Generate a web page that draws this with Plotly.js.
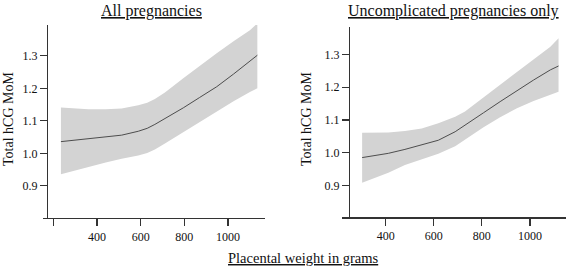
<!DOCTYPE html>
<html>
<head>
<meta charset="utf-8">
<script src="https://cdn.plot.ly/plotly-3.0.1.min.js"></script>
<style>html,body{margin:0;padding:0;background:#fff;}#chart{width:568px;height:268px;}</style>
</head>
<body>
<div id="chart"></div>
<script>
// Panel 1: All pregnancies
const xAll     = [235, 300, 360, 440, 513, 589, 630, 665, 711, 795, 870, 948, 1025, 1100, 1134];
const fitAll   = [1.036, 1.041, 1.046, 1.051, 1.056, 1.068, 1.077, 1.089, 1.107, 1.140, 1.172, 1.205, 1.244, 1.282, 1.302];
const upperAll = [1.141, 1.138, 1.136, 1.136, 1.138, 1.148, 1.156, 1.167, 1.187, 1.231, 1.270, 1.308, 1.345, 1.379, 1.400];
const lowerAll = [0.936, 0.948, 0.959, 0.972, 0.983, 0.993, 1.001, 1.012, 1.030, 1.065, 1.097, 1.128, 1.160, 1.189, 1.200];

// Panel 2: Uncomplicated pregnancies only
const xUnc     = [302, 411, 480, 550, 619, 689, 730, 807, 876, 946, 1015, 1085, 1119];
const fitUnc   = [0.985, 0.998, 1.010, 1.023, 1.038, 1.064, 1.085, 1.122, 1.156, 1.190, 1.222, 1.253, 1.265];
const upperUnc = [1.061, 1.062, 1.066, 1.074, 1.090, 1.110, 1.126, 1.169, 1.207, 1.245, 1.284, 1.324, 1.350];
const lowerUnc = [0.908, 0.939, 0.962, 0.980, 0.997, 1.020, 1.040, 1.078, 1.108, 1.136, 1.158, 1.178, 1.186];

const xTickVals1 = [200, 400, 600, 800, 1000];
const xTickText1 = ['', '400', '600', '800', '1000'];
const xTickVals2 = [400, 600, 800, 1000];
const xTickText2 = ['400', '600', '800', '1000'];
const yTickVals  = [0.9, 1.0, 1.1, 1.2, 1.3];
const yTickText  = ['0.9', '1.0', '1.1', '1.2', '1.3'];

const panelTitles = ['All pregnancies', 'Uncomplicated pregnancies only'];
const yTitle = 'Total hCG MoM';
const xTitle = 'Placental weight in grams';

const W = 568, H = 268;
const px = v => v / W;
const py = v => (H - v) / H;

const bandColor = '#d3d3d3';
const lineColor = '#4d4d4d';
const font = {family: '"Liberation Serif", "Times New Roman", serif', size: 12, color: '#111'};

function band(x, lo, hi, xa, ya) {
  return [
    {x: x, y: lo, xaxis: xa, yaxis: ya, mode: 'lines', line: {width: 0, color: bandColor}, hoverinfo: 'skip', showlegend: false},
    {x: x, y: hi, xaxis: xa, yaxis: ya, mode: 'lines', fill: 'tonexty', fillcolor: bandColor, line: {width: 0, color: bandColor}, hoverinfo: 'skip', showlegend: false},
  ];
}

const data = [
  ...band(xAll, lowerAll, upperAll, 'x', 'y'),
  {x: xAll, y: fitAll, xaxis: 'x', yaxis: 'y', mode: 'lines', line: {color: lineColor, width: 1}, showlegend: false},
  ...band(xUnc, lowerUnc, upperUnc, 'x2', 'y2'),
  {x: xUnc, y: fitUnc, xaxis: 'x2', yaxis: 'y2', mode: 'lines', line: {color: lineColor, width: 1}, showlegend: false},
];

const axCommon = {
  showgrid: false, zeroline: false, showline: true, linecolor: '#333', linewidth: 1.2,
  ticks: 'outside', ticklen: 7, tickwidth: 1.2, tickcolor: '#333', tickfont: font, fixedrange: true
};

const layout = {
  width: W, height: H,
  margin: {l: 0, r: 0, t: 0, b: 0},
  paper_bgcolor: '#fff', plot_bgcolor: 'rgba(0,0,0,0)',
  showlegend: false,
  font: font,
  xaxis: Object.assign({}, axCommon, {
    domain: [px(43), px(265)], range: [153, 1169], anchor: 'y',
    tickmode: 'array', tickvals: xTickVals1, ticktext: xTickText1
  }),
  yaxis: Object.assign({}, axCommon, {
    domain: [py(218), py(25)], range: [0.801, 1.395], anchor: 'free', position: px(47),
    tickmode: 'array', tickvals: yTickVals, ticktext: yTickText
  }),
  xaxis2: Object.assign({}, axCommon, {
    domain: [px(341.7), px(566)], range: [217, 1150], anchor: 'y2',
    tickmode: 'array', tickvals: xTickVals2, ticktext: xTickText2
  }),
  yaxis2: Object.assign({}, axCommon, {
    domain: [py(217.3), py(26.7)], range: [0.8025, 1.385], anchor: 'free', position: px(349),
    tickmode: 'array', tickvals: yTickVals, ticktext: yTickText
  }),
  annotations: [
    {text: '<u>' + panelTitles[0] + '</u>', xref: 'paper', yref: 'paper', x: px(151), y: py(11), xanchor: 'center', yanchor: 'middle', showarrow: false, font: Object.assign({}, font, {size: 16})},
    {text: '<u>' + panelTitles[1] + '</u>', xref: 'paper', yref: 'paper', x: px(453), y: py(11), xanchor: 'center', yanchor: 'middle', showarrow: false, font: Object.assign({}, font, {size: 16})},
    {text: yTitle, xref: 'paper', yref: 'paper', x: px(8), y: py(119), xanchor: 'center', yanchor: 'middle', textangle: -90, showarrow: false, font: Object.assign({}, font, {size: 14})},
    {text: yTitle, xref: 'paper', yref: 'paper', x: px(306), y: py(119), xanchor: 'center', yanchor: 'middle', textangle: -90, showarrow: false, font: Object.assign({}, font, {size: 14})},
    {text: '<u>' + xTitle + '</u>', xref: 'paper', yref: 'paper', x: px(303), y: py(258), xanchor: 'center', yanchor: 'middle', showarrow: false, font: Object.assign({}, font, {size: 14.5})}
  ]
};

Plotly.newPlot('chart', data, layout, {staticPlot: true, displayModeBar: false});
</script>
</body>
</html>
